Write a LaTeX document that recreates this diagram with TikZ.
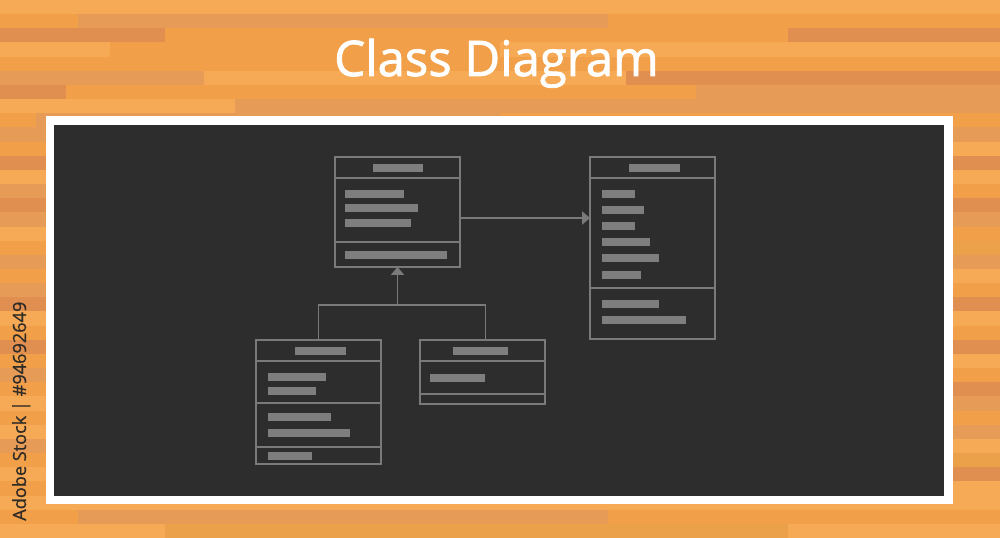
\documentclass[tikz,border=0pt]{standalone}
\usepackage{fontspec}
\setmainfont{Open Sans}
\newfontfamily\titlefont{Open Sans}[FakeBold=1.6]
\newfontfamily\sidefont{Open Sans}[FakeBold=0.8]
\usetikzlibrary{arrows.meta}
\definecolor{cL}{HTML}{F6AA55}
\definecolor{cO}{HTML}{F29F4A}
\definecolor{cM}{HTML}{E69B57}
\definecolor{cD}{HTML}{E08F50}
\definecolor{cE}{HTML}{EBA04A}
\definecolor{board}{HTML}{2D2D2D}
\definecolor{lineg}{HTML}{7A7A7A}
\definecolor{barg}{HTML}{7E7E7E}
\definecolor{sidetext}{HTML}{2F2B26}
\newcommand\seg[4]{\fill[#4] (#2,{#1*14.1579}) rectangle (#3,{(#1+1)*14.1579+0.4});}
\tikzset{
  classbox/.style={draw=lineg, line width=0.8pt, rectangle, inner sep=0pt, outer sep=0pt,
    minimum width=93.75pt, anchor=north west},
  sepline/.style={draw=lineg, line width=0.8pt},
  barc/.style={fill=barg},
  conn/.style={draw=lineg, line width=0.8pt},
  tip/.style={-{Triangle[length=6pt,width=10pt]}},
  titletext/.style={text=white, font=\fontsize{36.8}{40}\selectfont\titlefont, inner sep=0pt},
  sidelabel/.style={text=sidetext, font=\fontsize{13.6}{15}\selectfont\sidefont, inner sep=0pt}
}
\begin{document}
\begin{tikzpicture}[x=0.75pt,y=-0.75pt]
\useasboundingbox (0,0) rectangle (1000,538);
% background stripes
\seg{0}{0}{1000}{cL}
\seg{1}{0}{78}{cO}\seg{1}{78}{608}{cM}\seg{1}{608}{1000}{cO}
\seg{2}{0}{165}{cD}\seg{2}{165}{788}{cO}\seg{2}{788}{1000}{cD}
\seg{3}{0}{110}{cL}\seg{3}{110}{500}{cO}\seg{3}{500}{1000}{cL}
\seg{4}{0}{1000}{cO}
\seg{5}{0}{204}{cM}\seg{5}{204}{626}{cL}\seg{5}{626}{1000}{cD}
\seg{6}{0}{66}{cD}\seg{6}{66}{696}{cO}\seg{6}{696}{1000}{cM}
\seg{7}{0}{235}{cL}\seg{7}{235}{1000}{cM}
\foreach \r/\lc/\rc in {8/cO/cO,9/cM/cM,10/cO/cL,11/cD/cD,12/cL/cL,13/cM/cO,14/cD/cD,
  15/cM/cM,16/cL/cO,17/cO/cE,18/cM/cM,19/cO/cL,20/cM/cO,21/cD/cD,22/cL/cL,23/cO/cO,
  24/cD/cD,25/cO/cL,26/cM/cO,27/cO/cD,28/cL/cM,29/cO/cO,30/cL/cM,31/cM/cL,32/cO/cE,
  33/cL/cD,34/cO/cL,35/cL/cL}{
  \seg{\r}{0}{500}{\lc}\seg{\r}{500}{1000}{\rc}
}
\seg{8}{36}{500}{cM}
\seg{36}{0}{78}{cO}\seg{36}{78}{608}{cM}\seg{36}{608}{1000}{cO}
\seg{37}{0}{165}{cL}\seg{37}{165}{788}{cE}\seg{37}{788}{1000}{cL}
% frame and board
\fill[white] (46,116) rectangle (953,504);
\fill[board] (54,125) rectangle (944,496);
% title and side label
\node[titletext, anchor=base] (title) at (496.5,76) {Class Diagram};
\node[sidelabel, rotate=90, anchor=base west] (side) at (26,521) {Adobe Stock | \#94692649};
% class boxes
\node[classbox, minimum height=82.5pt] (c1) at (335,157) {};
\node[classbox, minimum height=136.5pt] (c2) at (590,157) {};
\node[classbox, minimum height=93pt] (c3) at (256,340) {};
\node[classbox, minimum height=48pt] (c4) at (420,340) {};
% compartments
\draw[sepline] (335,178) -- (460,178) (335,242) -- (460,242);
\draw[sepline] (590,178) -- (715,178) (590,288) -- (715,288);
\draw[sepline] (256,361) -- (381,361) (256,403) -- (381,403) (256,447) -- (381,447);
\draw[sepline] (420,361) -- (545,361) (420,394) -- (545,394);
% bars c1
\fill[barc] (373,164) rectangle (423,172);
\fill[barc] (345,190) rectangle (404,198);
\fill[barc] (345,204) rectangle (418,212);
\fill[barc] (345,219) rectangle (411,227);
\fill[barc] (345,251) rectangle (447,259);
% bars c2
\fill[barc] (629,164) rectangle (680,172);
\fill[barc] (602,190) rectangle (635,198);
\fill[barc] (602,206) rectangle (644,214);
\fill[barc] (602,222) rectangle (635,230);
\fill[barc] (602,238) rectangle (650,246);
\fill[barc] (602,254) rectangle (659,262);
\fill[barc] (602,271) rectangle (641,279);
\fill[barc] (602,300) rectangle (659,308);
\fill[barc] (602,316) rectangle (686,324);
% bars c3
\fill[barc] (295,347) rectangle (346,355);
\fill[barc] (268,373) rectangle (326,381);
\fill[barc] (268,387) rectangle (316,395);
\fill[barc] (268,413) rectangle (331,421);
\fill[barc] (268,429) rectangle (350,437);
\fill[barc] (268,452) rectangle (312,460);
% bars c4
\fill[barc] (453,347) rectangle (508,355);
\fill[barc] (430,374) rectangle (485,382);
% connectors
\draw[conn, tip, fill=lineg] (c1.east |- 0,218) -- (c2.west |- 0,218);
\coordinate (jn) at (c1.south |- 0,305);
\coordinate (c4top) at ([xshift=1.9pt]c4.north);
\draw[conn] (c3.north) |- (jn) -| (c4top);
\draw[conn, tip] (jn) -- (c1.south);
\end{tikzpicture}
\end{document}
